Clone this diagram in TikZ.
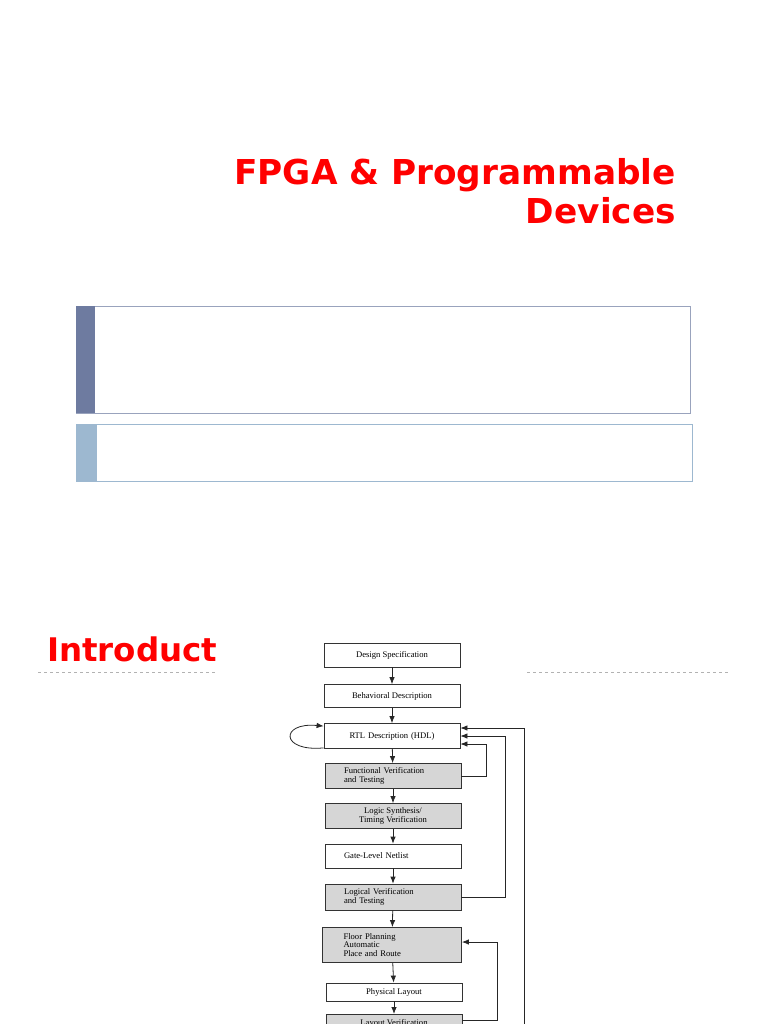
\documentclass[tikz,border=0pt]{standalone}
\usepackage{fontspec}
\setmainfont{Liberation Serif}
\newfontfamily\titlefont{DejaVu Sans}
\usetikzlibrary{arrows.meta}
\definecolor{tred}{HTML}{FF0000}
\definecolor{bardark}{HTML}{6E7BA0}
\definecolor{barlight}{HTML}{9DB8D0}
\definecolor{flowgray}{HTML}{D6D6D6}
\begin{document}
\begin{tikzpicture}[x=1pt,y=-1pt,
  fbox/.style={draw=black!80,line width=0.8pt,minimum width=136pt,inner sep=1pt,font=\fontsize{8.6}{8.6}\selectfont,align=left},
  gbox/.style={fbox,fill=flowgray},
  flow/.style={-{Latex[length=7pt,width=5.5pt]},line width=0.8pt,black!85}]
\useasboundingbox (0,0) rectangle (768,1024);
\fill[white] (0,0) rectangle (768,1024);
% title
\node[anchor=north east,align=right,text=tred,font=\titlefont\bfseries\fontsize{34.3}{39}\selectfont,inner sep=0] (title) at (676,158) {FPGA \& Programmable\\Devices};
% content boxes
\draw[draw=bardark!70,fill=white] (76,306) rectangle (690,413);
\fill[bardark] (76,306) rectangle (95,413);
\draw[draw=barlight,fill=white] (76,424) rectangle (692,481);
\fill[barlight] (76,424) rectangle (97,481);
% second slide header
\node[anchor=base west,text=tred,font=\titlefont\bfseries\fontsize{32.5}{34}\selectfont,inner sep=0] (intro) at (47,661) {Introduct};
\draw[black!30,dashed,line width=0.6pt] (38,672) -- (216,672);
\draw[black!30,dashed,line width=0.6pt] (527,672) -- (730,672);
% flow
\node[fbox,minimum height=24pt,align=center] (ds) at (392,655) {Design Specification};
\node[fbox,minimum height=23pt,align=center] (bd) at (392,696) {Behavioral Description};
\node[fbox,minimum height=25pt,align=center,text width=110pt] (rtl) at (392,736) {RTL Description (HDL)};
\node[gbox,minimum height=25pt,text width=126pt] (fv) at (393,776) {\hspace*{14pt}Functional Verification\\\hspace*{14pt}and Testing};
\node[gbox,minimum height=25pt,align=center] (ls) at (393,816) {Logic Synthesis/\\Timing Verification};
\node[fbox,minimum height=24pt,text width=126pt] (gl) at (393,856) {\hspace*{14pt}Gate-Level Netlist};
\node[gbox,minimum height=26pt,text width=126pt] (lv) at (393,897) {\hspace*{14pt}Logical Verification\\\hspace*{14pt}and Testing};
\node[gbox,minimum height=35pt,minimum width=139pt,text width=129pt] (fp) at (392,945) {\hspace*{16pt}Floor Planning\\\hspace*{16pt}Automatic\\\hspace*{16pt}Place and Route};
\node[fbox,minimum height=18pt,align=center] (pl) at (394,992) {Physical Layout};
\node[gbox,minimum height=18pt,align=center,anchor=north] (lyv) at (394,1014) {Layout Verification};
\draw[flow] (ds) -- (bd);
\draw[flow] (bd) -- (rtl);
\draw[flow] (rtl) -- (fv);
\draw[flow] (fv) -- (ls);
\draw[flow] (ls) -- (gl);
\draw[flow] (gl) -- (lv);
\draw[flow] (lv) -- (fp);
\draw[flow] (fp) -- (pl);
\draw[flow] (pl) -- (lyv);
\draw[flow] (rtl.south west) ++(0,-1) coordinate (sl1) .. controls (280,752) and (280,722) .. ([yshift=-3pt]rtl.north west);
\draw[flow] (fv.east) -| (486,744) -- (rtl.east |- 0,744);
\draw[flow] (lv.east) -| (505,736) -- (rtl.east |- 0,736);
\coordinate (outb) at (524,1024);
\draw[flow] (outb) -- (524,728) -- (rtl.east |- 0,728);
\coordinate (lvb) at (497,1020);
\draw[flow] (lyv.east |- lvb) -- (lvb) |- ([xshift=14pt]fp.east |- 0,942) -- (fp.east |- 0,942);
\end{tikzpicture}
\end{document}
